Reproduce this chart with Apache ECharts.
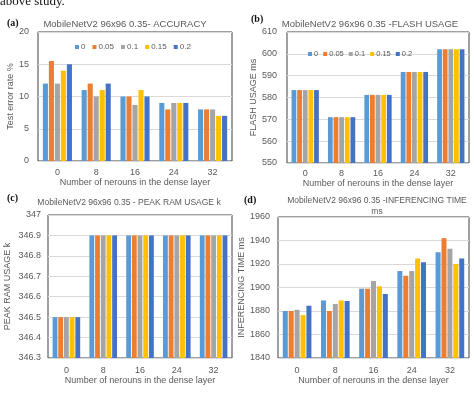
<!DOCTYPE html>
<html>
<head>
<meta charset="utf-8">
<script src="https://cdn.jsdelivr.net/npm/echarts@6/dist/echarts.min.js"></script>
<style>
  html, body { margin: 0; padding: 0; background: #fff; }
  #chart { width: 474px; height: 399px; }
</style>
</head>
<body>
<div id="chart"></div>
<script>
// categories (neurons in dense layer) and series
const categories = ['0', '8', '16', '24', '32'];
const seriesNames = ['0', '0.05', '0.1', '0.15', '0.2'];
const colors = ['#5B9BD5', '#ED7D31', '#A5A5A5', '#FFC000', '#4472C4'];

// (a) test error rate %, one row per series
const accuracy = [
  [12, 11, 10, 9, 8],
  [15.5, 12, 10, 8, 8],
  [12, 10, 8.7, 9, 8],
  [14, 11, 11, 9, 7],
  [15, 12, 10, 9, 7],
];
// (b) flash usage, same for every series
const flashUsage = [583.4, 571, 581.2, 591.7, 602.1];
// (c) peak ram usage, same for every series
const peakRam = [346.5, 346.9, 346.9, 346.9, 346.9];
// (d) inferencing time ms
const inferTime = [
  [1880, 1889, 1899, 1914, 1930],
  [1880, 1880, 1899, 1910, 1942],
  [1881, 1886, 1905.5, 1914, 1933],
  [1876.5, 1889, 1901, 1924.7, 1920],
  [1884.5, 1888.5, 1894.5, 1921.5, 1924.7],
];

const yTicks = [
  { min: 0, max: 20, interval: 5 },
  { min: 550, max: 610, interval: 10 },
  { min: 346.3, max: 347, interval: 0.1 },
  { min: 1840, max: 1960, interval: 20 },
];
const yNames = ['Test error rate %', 'FLASH USAGE ms', 'PEAK RAM USAGE k', 'INFERENCING TIME ms'];
const xName = 'Number of nerouns in the dense layer';

const FONT = 'Liberation Sans';
const GRAY = '#595959';

const grids = [
  { left: 38, top: 32, right: 242, bottom: 238 },
  { left: 287, top: 32, right: 5, bottom: 236 },
  { left: 48, top: 215, right: 242, bottom: 41 },
  { left: 278, top: 217, right: 5, bottom: 41 },
];
const yNameGap = [12, 18, 36, 24];
const yLabelMargin = [9, 10, 7, 8];
const xNameGap = [10, 13, 17, 17];
const xLabelMargin = [7, 6, 8, 8];

function panelData(p, i) {
  if (p === 0) return accuracy[i];
  if (p === 1) return flashUsage;
  if (p === 2) return peakRam;
  return inferTime[i];
}

const chart = echarts.init(document.getElementById('chart'), null, { renderer: 'canvas' });

const series = [];
for (let p = 0; p < 4; p++) {
  seriesNames.forEach((name, i) => {
    series.push({
      type: 'bar',
      name: name,
      xAxisIndex: p,
      yAxisIndex: p,
      data: panelData(p, i),
      itemStyle: { color: colors[i] },
      barGap: '18%',
      barCategoryGap: '25%',
    });
  });
}

const textStyle = (size, color, weight, family) => ({
  fontSize: size,
  fill: color || GRAY,
  fontFamily: family || FONT,
  fontWeight: weight || 'normal',
});

chart.setOption({
  backgroundColor: '#ffffff',
  animation: false,
  grid: grids.map((g) => ({
    ...g,
    show: true,
    borderColor: '#404040',
    borderWidth: 1,
    backgroundColor: 'transparent',
  })),
  legend: [
    {
      data: seriesNames,
      left: 75,
      top: 43,
      padding: 0,
      itemWidth: 4,
      itemHeight: 4,
      itemGap: 7,
      icon: 'rect',
      textStyle: { fontSize: 8, color: GRAY, fontFamily: FONT, padding: [0, 0, 0, -3] },
    },
    {
      data: seriesNames,
      left: 308,
      top: 50,
      padding: 0,
      itemWidth: 4,
      itemHeight: 4,
      itemGap: 5,
      icon: 'rect',
      textStyle: { fontSize: 7.5, color: GRAY, fontFamily: FONT, padding: [0, 0, 0, -3] },
    },
  ],
  xAxis: grids.map((g, p) => ({
    type: 'category',
    gridIndex: p,
    data: categories,
    name: xName,
    nameLocation: 'middle',
    nameGap: xNameGap[p],
    nameTextStyle: { fontSize: 9, color: GRAY, fontFamily: FONT },
    axisLine: { show: false },
    axisTick: { show: false },
    axisLabel: { fontSize: 9, color: GRAY, fontFamily: FONT, margin: xLabelMargin[p] },
  })),
  yAxis: yTicks.map((t, p) => ({
    type: 'value',
    gridIndex: p,
    min: t.min,
    max: t.max,
    interval: t.interval,
    name: yNames[p],
    nameLocation: 'middle',
    nameGap: yNameGap[p],
    nameTextStyle: { fontSize: 9, color: GRAY, fontFamily: FONT },
    axisLine: { show: false },
    axisTick: { show: false },
    splitLine: { lineStyle: { color: '#d9d9d9', width: 1 } },
    axisLabel: {
      fontSize: 9,
      color: GRAY,
      fontFamily: FONT,
      margin: yLabelMargin[p],
      formatter: (v) => String(+v.toFixed(1)),
    },
  })),
  graphic: [
    // text above the figure, cut off at the top
    { type: 'text', left: 0, top: -5, style: { text: 'above study.', ...textStyle(13, '#111', 'normal', 'Liberation Serif') } },
    // panel letters
    { type: 'text', left: 7, top: 18, style: { text: '(a)', ...textStyle(10, '#111', 'bold', 'Liberation Serif') } },
    { type: 'text', left: 251, top: 14, style: { text: '(b)', ...textStyle(10, '#111', 'bold', 'Liberation Serif') } },
    { type: 'text', left: 7, top: 193, style: { text: '(c)', ...textStyle(10, '#111', 'bold', 'Liberation Serif') } },
    { type: 'text', left: 244, top: 195, style: { text: '(d)', ...textStyle(10, '#111', 'bold', 'Liberation Serif') } },
    // panel titles
    { type: 'text', x: 125, y: 24, style: { text: 'MobileNetV2 96x96 0.35- ACCURACY', align: 'center', verticalAlign: 'middle', ...textStyle(9.5) } },
    { type: 'text', x: 370, y: 24, style: { text: 'MobileNetV2 96x96 0.35 -FLASH USAGE', align: 'center', verticalAlign: 'middle', ...textStyle(9.5) } },
    { type: 'text', x: 129, y: 203, style: { text: 'MobileNetV2 96x96 0.35 - PEAK RAM USAGE k', align: 'center', verticalAlign: 'middle', ...textStyle(8.5) } },
    { type: 'text', x: 377, y: 201, style: { text: 'MobileNetV2 96x96 0.35 -INFERENCING TIME', align: 'center', verticalAlign: 'middle', ...textStyle(8.5) } },
    { type: 'text', x: 377, y: 212, style: { text: 'ms', align: 'center', verticalAlign: 'middle', ...textStyle(8.5) } },
  ],
  series: series,
});
</script>
</body>
</html>
